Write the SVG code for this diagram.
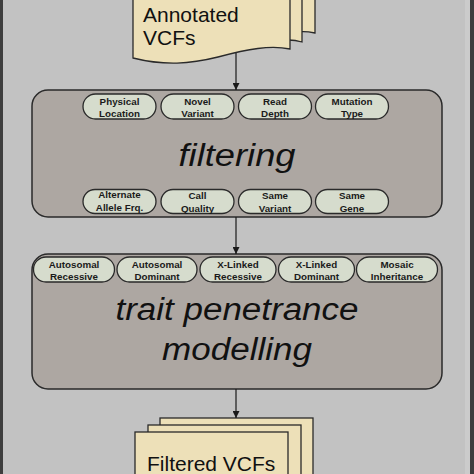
<svg xmlns="http://www.w3.org/2000/svg" width="474" height="474" viewBox="0 0 474 474">
<defs>
<style>
.doc{fill:#ede0b8;stroke:#2a2a2a;stroke-width:1.3}
.box{fill:#ada7a2;stroke:#2a2a2a;stroke-width:1.5}
.pill{fill:#d6dccd;stroke:#2a2a2a;stroke-width:1.3}
.pt{font-family:"Liberation Sans",Arial,sans-serif;font-weight:bold;font-size:9.8px;fill:#1a1a1a;text-anchor:middle}
.dt{font-family:"Liberation Sans",Arial,sans-serif;font-size:21px;fill:#111}
.big{font-family:"Liberation Sans",Arial,sans-serif;font-style:italic;font-size:31px;fill:#111;text-anchor:middle}
.conn{stroke:#1a1a1a;stroke-width:1.2;fill:none}
</style>
<marker id="ah" viewBox="0 0 10 10" refX="10" refY="5" markerWidth="7" markerHeight="7" orient="auto" markerUnits="userSpaceOnUse">
<path d="M0,0 L10,5 L0,10 z" fill="#1a1a1a"/>
</marker>
</defs>
<rect x="0" y="0" width="474" height="474" fill="#c2c2c2"/>
<rect x="0" y="0" width="3" height="474" fill="#3e3e3e"/>
<rect x="465" y="0" width="5" height="474" fill="#cbcbcb"/>
<rect x="470" y="0" width="4" height="474" fill="#3e3e3e"/>

<g id="annotated-vcfs">
<path class="doc" d="M159,-10 L315,-10 L315,33 C305,31 300,31 290,34 L159,34 Z"/>
<path class="doc" d="M146,-10 L302,-10 L302,42 C292,39 285,39 275,42 L146,42 Z"/>
<path class="doc" d="M133,-10 L290,-10 L290,49 C270,45 248,49 218,57 C190,64 165,66 133,58 Z"/>
<text class="dt" x="143" y="22">Annotated</text>
<text class="dt" x="143" y="45">VCFs</text>
</g>

<g id="filtering">
<rect class="box" x="32" y="90" width="410" height="127" rx="16" ry="16"/>
<text class="big" x="237" y="166" textLength="117" lengthAdjust="spacingAndGlyphs">filtering</text>
<g id="f-physical-location"><rect class="pill" x="83" y="94" width="73" height="25" rx="12.5"/><text class="pt" x="119.5" y="104.5">Physical</text><text class="pt" x="119.5" y="117">Location</text></g>
<g id="f-novel-variant"><rect class="pill" x="161" y="94" width="73" height="25" rx="12.5"/><text class="pt" x="197.5" y="104.5">Novel</text><text class="pt" x="197.5" y="117">Variant</text></g>
<g id="f-read-depth"><rect class="pill" x="238.5" y="94" width="73" height="25" rx="12.5"/><text class="pt" x="275" y="104.5">Read</text><text class="pt" x="275" y="117">Depth</text></g>
<g id="f-mutation-type"><rect class="pill" x="315.5" y="94" width="73" height="25" rx="12.5"/><text class="pt" x="352" y="104.5">Mutation</text><text class="pt" x="352" y="117">Type</text></g>
<g id="f-alternate-allele"><rect class="pill" x="83" y="189.5" width="73" height="24" rx="12"/><text class="pt" x="119.5" y="197.5">Alternate</text><text class="pt" x="119.5" y="210.5">Allele Frq.</text></g>
<g id="f-call-quality"><rect class="pill" x="161" y="189.5" width="73" height="24" rx="12"/><text class="pt" x="197.5" y="199">Call</text><text class="pt" x="197.5" y="212">Quality</text></g>
<g id="f-same-variant"><rect class="pill" x="238.5" y="189.5" width="73" height="24" rx="12"/><text class="pt" x="275" y="199">Same</text><text class="pt" x="275" y="212">Variant</text></g>
<g id="f-same-gene"><rect class="pill" x="315.5" y="189.5" width="73" height="24" rx="12"/><text class="pt" x="352" y="199">Same</text><text class="pt" x="352" y="212">Gene</text></g>
</g>

<g id="trait-penetrance">
<rect class="box" x="32" y="254" width="410" height="135" rx="16" ry="16"/>
<text class="big" x="237" y="320" textLength="243" lengthAdjust="spacingAndGlyphs">trait penetrance</text>
<text class="big" x="237" y="360" textLength="150" lengthAdjust="spacingAndGlyphs">modelling</text>
<g id="t-autosomal-recessive"><rect class="pill" x="33.5" y="257" width="81" height="25" rx="12.5"/><text class="pt" x="74" y="267.5">Autosomal</text><text class="pt" x="74" y="280">Recessive</text></g>
<g id="t-autosomal-dominant"><rect class="pill" x="117" y="257" width="80" height="25" rx="12.5"/><text class="pt" x="157" y="267.5">Autosomal</text><text class="pt" x="157" y="280">Dominant</text></g>
<g id="t-xlinked-recessive"><rect class="pill" x="200" y="257" width="76" height="25" rx="12.5"/><text class="pt" x="238" y="267.5">X-Linked</text><text class="pt" x="238" y="280">Recessive</text></g>
<g id="t-xlinked-dominant"><rect class="pill" x="278.5" y="257" width="76" height="25" rx="12.5"/><text class="pt" x="316.5" y="267.5">X-Linked</text><text class="pt" x="316.5" y="280">Dominant</text></g>
<g id="t-mosaic-inheritance"><rect class="pill" x="356.5" y="257" width="81" height="25" rx="12.5"/><text class="pt" x="397" y="267.5">Mosaic</text><text class="pt" x="397" y="280">Inheritance</text></g>
</g>

<g id="filtered-vcfs">
<rect class="doc" x="160" y="418" width="153" height="70"/>
<rect class="doc" x="148" y="425" width="153" height="70"/>
<rect class="doc" x="135" y="432" width="153" height="70"/>
<text class="dt" x="147" y="471">Filtered VCFs</text>
</g>

<g id="connectors">
<line class="conn" x1="236" y1="53" x2="236" y2="90" marker-end="url(#ah)"/>
<line class="conn" x1="236" y1="217" x2="236" y2="254" marker-end="url(#ah)"/>
<line class="conn" x1="236" y1="389" x2="236" y2="418" marker-end="url(#ah)"/>
</g>
</svg>
